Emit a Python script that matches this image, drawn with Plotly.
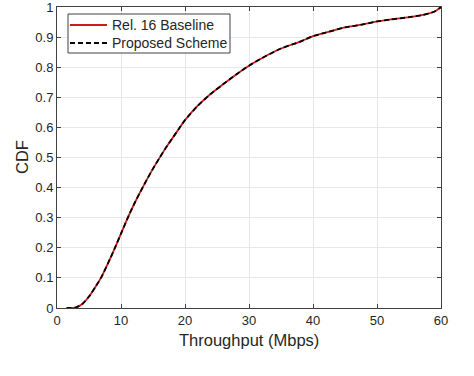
import plotly.graph_objects as go

throughput = [1.5, 2.5, 3, 4, 5, 6, 7, 8, 9, 10, 11, 12, 13, 14, 15, 16, 17, 18, 19, 20,
              22, 24, 26, 28, 30, 32, 35, 38, 40, 42, 45, 48, 50, 52, 55, 57, 58, 59, 59.7, 60]
cdf_baseline = [0.0, 0.0, 0.002, 0.014, 0.038, 0.07, 0.105, 0.15, 0.197, 0.247, 0.297, 0.343,
                0.385, 0.425, 0.463, 0.498, 0.532, 0.563, 0.594, 0.624, 0.672, 0.711, 0.744, 0.776,
                0.805, 0.83, 0.862, 0.885, 0.903, 0.915, 0.932, 0.943, 0.952, 0.958, 0.966,
                0.973, 0.978, 0.985, 0.995, 1.0]
cdf_proposed = list(cdf_baseline)

series_names = ["Rel. 16 Baseline", "Proposed Scheme"]
series_colors = ["#d01818", "black"]
series_dash = ["solid", "5px,3px"]

x_ticks = [0, 10, 20, 30, 40, 50, 60]
y_ticks = [0, 0.1, 0.2, 0.3, 0.4, 0.5, 0.6, 0.7, 0.8, 0.9, 1]
y_ticklabels = ["0", "0.1", "0.2", "0.3", "0.4", "0.5", "0.6", "0.7", "0.8", "0.9", "1"]

FONT = "Liberation Sans, Arial"
TXT = "#262626"

W, H = 474, 376
ML, MR, MT, MB = 57, 33, 7, 68
PW, PH = W - ML - MR, H - MT - MB


def px2paper(px, py):
    return (px - ML) / PW, (H - MB - py) / PH


fig = go.Figure()
for yv, nm, col, dsh in zip([cdf_baseline, cdf_proposed], series_names, series_colors, series_dash):
    fig.add_trace(go.Scatter(x=throughput, y=yv, mode="lines", name=nm, showlegend=False,
                             hoverinfo="skip",
                             line=dict(color=col, width=1.8, dash=dsh, shape="spline", smoothing=0.6)))

axis_common = dict(showline=True, linecolor="#404040", linewidth=1, mirror="ticks",
                   ticks="inside", ticklen=4, tickcolor="#404040",
                   showgrid=True, gridcolor="#e8e8e8", gridwidth=1, zeroline=False,
                   ticklabeloverflow="allow", automargin=False,
                   tickfont=dict(family=FONT, size=13, color=TXT))

# compact MATLAB-style legend box
lx0, ly1 = px2paper(68, 14)
lx1, ly0 = px2paper(230, 53)
row_px = [25, 43]
sx0, _ = px2paper(70, 0)
sx1, _ = px2paper(107, 0)
tx, _ = px2paper(110, 0)
shapes = [dict(type="rect", xref="paper", yref="paper", x0=lx0, x1=lx1, y0=ly0, y1=ly1,
               fillcolor="white", line=dict(color="#404040", width=1), layer="above")]
annotations = []
for rp, nm, col, dsh in zip(row_px, series_names, series_colors, series_dash):
    _, ry = px2paper(0, rp)
    shapes.append(dict(type="line", xref="paper", yref="paper", x0=sx0, x1=sx1, y0=ry, y1=ry,
                       line=dict(color=col, width=1.8, dash=dsh), layer="above"))
    annotations.append(dict(xref="paper", yref="paper", x=tx, y=ry, text=nm, showarrow=False,
                            xanchor="left", yanchor="middle",
                            font=dict(family=FONT, size=14, color=TXT)))

xt_x, xt_y = px2paper(249, 340)
yt_x, yt_y = px2paper(22, 157)
annotations.append(dict(xref="paper", yref="paper", x=xt_x, y=xt_y, text="Throughput (Mbps)",
                        showarrow=False, xanchor="center", yanchor="middle",
                        font=dict(family=FONT, size=16.5, color=TXT)))
annotations.append(dict(xref="paper", yref="paper", x=yt_x, y=yt_y, text="CDF", textangle=-90,
                        showarrow=False, xanchor="center", yanchor="middle",
                        font=dict(family=FONT, size=16.5, color=TXT)))

fig.update_layout(
    width=W, height=H,
    margin=dict(l=ML, r=MR, t=MT, b=MB, autoexpand=False),
    paper_bgcolor="white", plot_bgcolor="white",
    font=dict(family=FONT, color=TXT),
    xaxis=dict(range=[0, 60], tickvals=x_ticks, **axis_common),
    yaxis=dict(range=[0, 1], tickvals=y_ticks, ticktext=y_ticklabels, **axis_common),
    shapes=shapes,
    annotations=annotations,
    showlegend=False,
    hovermode=False,
)

fig.write_html("out.html", config={"displayModeBar": False},
               post_script="document.body.style.margin='0';")
